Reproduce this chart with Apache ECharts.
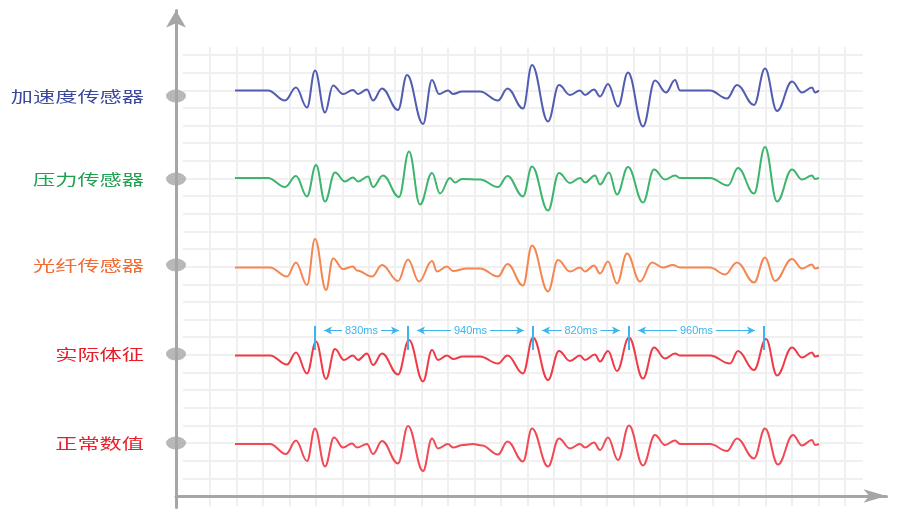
<!DOCTYPE html>
<html>
<head>
<meta charset="utf-8">
<title>传感器波形对比</title>
<style>
  html, body { margin: 0; padding: 0; background: #fff; }
  #chart { width: 908px; height: 518px; }
</style>
<script src="https://cdn.jsdelivr.net/npm/echarts@6/dist/echarts.min.js"></script>
</head>
<body>
<div id="chart"></div>
<script>
// 行名称（从上到下）
const rowNames = ['加速度传感器', '压力传感器', '光纤传感器', '实际体征', '正常数值'];
// 每行波形基线
const rowBase = [405.5, 318, 228.5, 140.5, 52];
// 左侧圆点 / 标签所在高度
const labelLevel = [400, 317, 231, 142, 53];

// 波形极值点 [时间, 振幅]
const waveAccel = [[0,0],[33,0],[50,-10],[61,3],[72,-17],[80,20],[90,-22],[98,5],[108,-3.5],[118,0.5],[123,-3.5],[132,1],[138,-10],[147,2],[163,-19.5],[172,15.5],[188,-33.5],[197,10.5],[204,-3.5],[213,0],[218,-3.5],[227,-1],[245,-1],[263,-10],[272.5,2],[288,-18],[297,25.5],[313,-31],[324,5.5],[335,-4.5],[345,0],[350,-4.5],[359,1],[365,-6],[373,6.5],[383,-16],[393,18],[408,-36],[420,10],[431,-2],[440,10.5],[445,0],[475,0],[492,-8],[502,5.5],[519,-14.5],[530,22],[542,-20.5],[557,9],[567,-2],[577,3],[580,-2],[584,0]];
const wavePress = [[0,0],[33,0],[50,-9],[61,2],[72,-18.5],[81,13],[90,-23.5],[100,5.5],[110,-3.5],[118,0.5],[123,-3.5],[133,1.5],[138,-9],[148,2.5],[164,-19],[174,26.5],[185,-26.5],[197,5],[205,-15.5],[215,0],[220,-4.5],[227,-1],[245,-1.5],[263,-9],[272.5,2],[288,-18.5],[297,11.5],[313,-32.5],[324,5],[335,-5],[345,0],[350,-4.5],[360,2.5],[365,-6.5],[374,5.5],[382,-16.5],[393,11],[408,-24.5],[419,8.5],[430,-1.5],[440,2.5],[445,0],[475,0],[493,-7.5],[503,10],[519,-15.5],[530,31],[542,-23.5],[557,8.5],[567,-1.5],[577,2.5],[580,-1],[584,0]];
const waveFiber = [[0,0],[35,0],[52,-9],[61,5],[72,-17.5],[80,28.5],[91,-22.5],[98,9],[108,-1.5],[118,1],[122,-3],[137,-9],[147,2.5],[163,-13.5],[173,8],[184,-14],[197,6.5],[202,-4],[212,1],[218,-3.5],[232,-1],[245,-1],[263,-9],[272.5,3.5],[288,-18],[297,22],[313,-24],[323,7.5],[335,-4],[345,0],[350,-4],[359,2],[365,-6],[373,6],[382,-16],[392,14],[405,-14],[417,5],[428,0],[438,2.5],[445,0],[475,0],[490,-7],[502,5],[519,-15],[530,10],[540,-13.5],[557,8.5],[567,-1],[577,3],[580,-1],[584,0]];
const waveReal = [[0,0],[35,0],[52,-9],[61,3],[72,-18],[81,14],[91,-23.5],[100,6.5],[109,-4.5],[118,0],[123,-4.5],[132,2],[138,-9.5],[147,2],[163,-19],[174,15.5],[188,-26],[197,5.5],[203,-4.5],[212,0],[218,-3.5],[228,-1],[245,-1],[263,-8],[272.5,0],[288,-18],[298,18],[313,-24.5],[324,4.5],[335,-5.5],[345,0],[350,-4.5],[360,1],[365,-6],[373,4.5],[382,-15.5],[394,18],[408,-23],[419,8],[430,-3],[440,2],[445,0],[475,0],[495,-8],[503,4.5],[519,-14.5],[531,16.5],[542,-20],[557,8],[567,-2],[577,3],[580,-1],[584,0]];
const waveNormal = [[0,0],[35,0],[51,-10],[61,3.5],[72,-17],[80,15.5],[90,-22.5],[99,6.5],[108,-3.5],[117,0.5],[122,-3.5],[132,0],[138,-10],[147,3],[163,-19.5],[173,18],[188,-27],[197,5.5],[203,-4.5],[213,0],[218,-3.5],[228,-1],[238,0],[247,-1.5],[263,-10.5],[272.5,2.5],[288,-17.5],[297,15.5],[313,-22.5],[324,5.5],[335,-4.5],[345,0],[350,-3.5],[359,1.5],[365,-6],[373,6.5],[383,-16],[394,18.5],[408,-21.5],[420,9],[430,-1],[440,3.5],[445,0],[475,0],[492,-7],[502,5.5],[519,-14.5],[530,15.5],[543,-20.5],[558,9],[567,-1.5],[577,4],[580,-1],[584,0]];

// 实际体征峰值位置 与 间隔标注
const peakX = [80, 173, 298, 394, 529];
const intervalText = ['830ms', '940ms', '820ms', '960ms'];

(
  function (w, d) {
    const waves = [waveAccel, wavePress, waveFiber, waveReal, waveNormal];
    const lineColors = ['#525cb0', '#3db56e', '#f68650', '#ef3b47', '#f04a55'];
    const labelColors = ['#3b4a9e', '#21a152', '#f26a35', '#ea1b28', '#e8202c'];
    const gridColor = '#f0f0f0';
    const axisColor = '#a6a6a6';
    const markColor = '#3cb4ec';

    const chart = echarts.init(d.getElementById('chart'));
    chart.setOption(getOption());
    chart.setOption({graphic: genLabels()});

    /* 方法：图表配置 */
    function getOption() {
      const hidden = {axisLine: {show: false}, axisTick: {show: false}, axisLabel: {show: false}};
      return {
        animation: false,
        grid: [
          {left: 210, right: 63, top: 47, bottom: 12}, // 竖向网格
          {left: 183, right: 45, top: 55, bottom: 22}, // 横向网格 + 波形
          {left: 176, right: 21.5, top: 10.5, bottom: 10.5} // 坐标轴
        ],
        xAxis: [
          {gridIndex: 0, type: 'value', min: 0, max: 24, interval: 1, ...hidden,
            splitLine: {show: true, lineStyle: {color: gridColor, width: 2}}},
          {gridIndex: 1, type: 'value', min: -52, max: 628, show: false},
          {gridIndex: 2, type: 'value', min: 0, max: 1, axisTick: {show: false}, axisLabel: {show: false},
            splitLine: {show: false},
            axisLine: {show: true, symbol: ['none', 'arrow'], symbolSize: [10, 23],
              lineStyle: {color: axisColor, width: 3}}}
        ],
        yAxis: [
          {gridIndex: 0, type: 'value', min: 0, max: 1, show: false},
          {gridIndex: 1, type: 'value', min: 0, max: 441, interval: 17.64, ...hidden,
            splitLine: {show: true, lineStyle: {color: gridColor, width: 2}}},
          {gridIndex: 2, type: 'value', min: -11.5, max: 485.5, axisTick: {show: false}, axisLabel: {show: false},
            splitLine: {show: false},
            axisLine: {show: true, symbol: ['none', 'arrow'], symbolSize: [15, 17],
              lineStyle: {color: axisColor, width: 3}}}
        ],
        series: genSeries()
      };
    }

    /* 方法：生成波形 + 圆点 */
    function genSeries() {
      const list = waves.map((wave, i) => ({
        name: rowNames[i],
        type: 'line',
        xAxisIndex: 1,
        yAxisIndex: 1,
        smooth: 0.4,
        smoothMonotone: 'x',
        symbol: 'none',
        lineStyle: {color: lineColors[i], width: 2},
        data: wave.map(p => [p[0], rowBase[i] + p[1]])
      }));
      list[3].markLine = genMarkLine();
      list.push({
        type: 'scatter',
        xAxisIndex: 2,
        yAxisIndex: 2,
        clip: false,
        symbol: 'circle',
        symbolSize: [20, 13],
        itemStyle: {color: axisColor},
        data: labelLevel.map(v => [0, v])
      });
      return list;
    }

    /* 方法：峰值间隔标注 */
    function genMarkLine() {
      const base = rowBase[3];
      const ticks = peakX.map(x => [
        {coord: [x, base + 29.5], symbol: 'none', lineStyle: {width: 2}, label: {show: false}},
        {coord: [x, base + 5.5], symbol: 'none'}
      ]);
      const arrows = intervalText.map((t, i) => [
        {coord: [peakX[i] + 9, base + 25], name: t},
        {coord: [peakX[i + 1] - 9, base + 25]}
      ]);
      return {
        silent: true,
        symbol: ['arrow', 'arrow'],
        symbolSize: [6, 8],
        lineStyle: {color: markColor, width: 1, type: 'solid'},
        label: {
          show: true, position: 'middle', formatter: '{b}', color: markColor,
          fontSize: 11, lineHeight: 12, fontFamily: 'Liberation Sans',
          backgroundColor: '#fff', padding: [0, 3], distance: [0, -6]
        },
        data: ticks.concat(arrows)
      };
    }

    /* 方法：左侧名称（横向拉伸） */
    function genLabels() {
      return rowNames.map((name, i) => {
        const pos = chart.convertToPixel({gridIndex: 2}, [0, labelLevel[i]]);
        return {
          type: 'text',
          x: pos[0] - 32,
          y: pos[1],
          scaleX: 1.48,
          style: {
            text: name,
            fill: labelColors[i],
            font: '15px "Noto Sans CJK SC"',
            textAlign: 'right',
            textVerticalAlign: 'middle'
          }
        };
      });
    }
  }
)(window, document);
</script>
</body>
</html>
